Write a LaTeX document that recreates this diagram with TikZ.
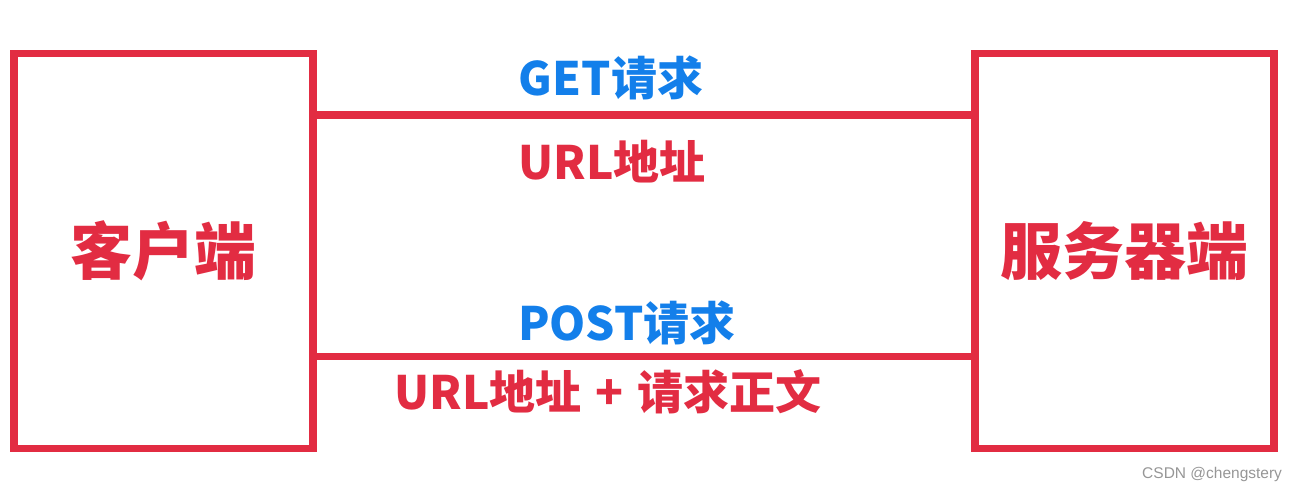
\documentclass[tikz,border=0pt]{standalone}
\usepackage{fontspec}
\setmainfont{Noto Sans CJK SC}
\newfontfamily\markfont{Liberation Sans}
\definecolor{reqRed}{RGB}{226,44,66}
\definecolor{reqBlue}{RGB}{19,127,234}
\definecolor{markGray}{RGB}{150,150,150}

\begin{document}
\begin{tikzpicture}[x=1pt,y=-1pt]
\tikzstyle{every node}=[font=\bfseries, inner sep=0pt, outer sep=0pt]
\tikzstyle{side}=[draw=reqRed, line width=7.5pt, minimum width=299pt, minimum height=395pt, text=reqRed, font=\bfseries\fontsize{62}{70}\selectfont]
\tikzstyle{link}=[draw=reqRed, line width=7.5pt]
\useasboundingbox (0,0) rectangle (1292,491);

  \node[side] (client) at (163.5,251) {客户端};
  \node[side] (server) at (1124.6,251) {服务器端};

  \coordinate (getrow) at (0,115);
  \coordinate (postrow) at (0,356.5);
  \draw[link] (client.east |- getrow) -- (server.west |- getrow);
  \draw[link] (client.east |- postrow) -- (server.west |- postrow);

  \node[text=reqBlue, font=\bfseries\fontsize{46}{50}\selectfont] (get) at (611,78) {GET请求};
  \node[text=reqRed, font=\bfseries\fontsize{46}{50}\selectfont] (geturl) at (612,162) {URL地址};
  \node[text=reqBlue, font=\bfseries\fontsize{46}{50}\selectfont] (post) at (627,323) {POST请求};
  \node[text=reqRed, font=\bfseries\fontsize{46}{50}\selectfont] (postbody) at (608,392) {URL地址\hspace{0.3em}+\hspace{0.3em}请求正文};

  \node[text=markGray, font=\markfont\fontsize{15.5}{17}\selectfont, anchor=east] (mark) at (1282,474) {CSDN @chengstery};

\end{tikzpicture}
\end{document}
